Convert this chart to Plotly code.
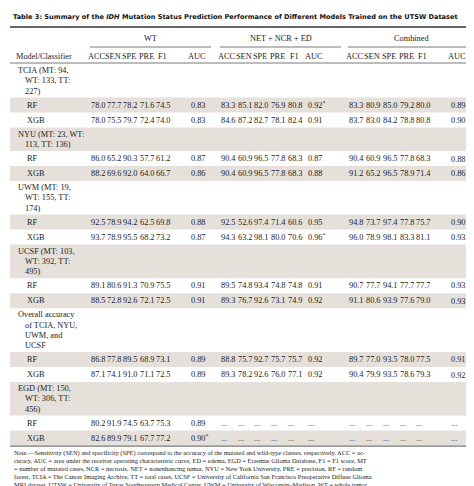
import plotly.graph_objects as go

title = "Table 3: Summary of the <i>IDH</i> Mutation Status Prediction Performance of Different Models Trained on the UTSW Dataset"
groups = ["WT", "NET + NCR + ED", "Combined"]
metrics = ["ACC", "SEN", "SPE", "PRE", "F1", "AUC"]

datasets = [
    ["TCIA (MT: 94,", "WT: 133, TT:", "227)"],
    ["NYU (MT: 23, WT:", "113, TT: 136)"],
    ["UWM (MT: 19,", "WT: 155, TT:", "174)"],
    ["UCSF (MT: 103,", "WT: 392, TT:", "495)"],
    ["Overall accuracy", "of TCIA, NYU,", "UWM, and", "UCSF"],
    ["EGD (MT: 150,", "WT: 306, TT:", "456)"],
]
models = ["RF", "XGB"]
values = [
    [["78.0","77.7","78.2","71.6","74.5","0.83","83.3","85.1","82.0","76.9","80.8","0.92*","83.3","80.9","85.0","79.2","80.0","0.89"],
     ["78.0","75.5","79.7","72.4","74.0","0.83","84.6","87.2","82.7","78.1","82.4","0.91","83.7","83.0","84.2","78.8","80.8","0.90"]],
    [["86.0","65.2","90.3","57.7","61.2","0.87","90.4","60.9","96.5","77.8","68.3","0.87","90.4","60.9","96.5","77.8","68.3","0.88*"],
     ["88.2","69.6","92.0","64.0","66.7","0.86","90.4","60.9","96.5","77.8","68.3","0.88","91.2","65.2","96.5","78.9","71.4","0.86"]],
    [["92.5","78.9","94.2","62.5","69.8","0.88","92.5","52.6","97.4","71.4","60.6","0.95","94.8","73.7","97.4","77.8","75.7","0.90"],
     ["93.7","78.9","95.5","68.2","73.2","0.87","94.3","63.2","98.1","80.0","70.6","0.96*","96.0","78.9","98.1","83.3","81.1","0.93"]],
    [["89.1","80.6","91.3","70.9","75.5","0.91","89.5","74.8","93.4","74.8","74.8","0.91","90.7","77.7","94.1","77.7","77.7","0.93"],
     ["88.5","72.8","92.6","72.1","72.5","0.91","89.3","76.7","92.6","73.1","74.9","0.92","91.1","80.6","93.9","77.6","79.0","0.93*"]],
    [["86.8","77.8","89.5","68.9","73.1","0.89","88.8","75.7","92.7","75.7","75.7","0.92","89.7","77.0","93.5","78.0","77.5","0.91"],
     ["87.1","74.1","91.0","71.1","72.5","0.89","89.3","78.2","92.6","76.0","77.1","0.92","90.4","79.9","93.5","78.6","79.3","0.92*"]],
    [["80.2","91.9","74.5","63.7","75.3","0.89"] + ["..."]*12,
     ["82.6","89.9","79.1","67.7","77.2","0.90*"] + ["..."]*12],
]
notes = [
    "Note.—Sensitivity (SEN) and specificity (SPE) correspond to the accuracy of the mutated and wild-type classes, respectively. ACC = ac-",
    "curacy, AUC = area under the receiver operating characteristic curve, ED = edema, EGD = Erasmus Glioma Database, F1 = F1 score, MT",
    "= number of mutated cases, NCR = necrosis, NET = nonenhancing tumor, NYU = New York University, PRE = precision, RF = random",
    "forest, TCIA = The Cancer Imaging Archive, TT = total cases, UCSF = University of California San Francisco Preoperative Diffuse Glioma",
    "MRI dataset, UTSW = University of Texas Southwestern Medical Center, UWM = University of Wisconsin–Madison, WT = whole tumor",
    "(number of wild-type cases), XGB = XGBoost.",
    "* Indicates the highest AUC achieved for each dataset.",
]

SERIF = "Liberation Serif"
FS = 8.3
col_x = [89, 105, 121, 138, 154, 189,
         219, 236, 252, 269, 286, 306,
         347, 364, 381, 398, 414, 449]
group_x = [(82, 203), (212, 333), (340, 466)]
fig = go.Figure()
ann = []
shapes = []
shade = "#e6e0da"

def A(**kw):
    d = dict(xref="x", yref="y", showarrow=False, yanchor="middle")
    d.update(kw)
    ann.append(d)

def S(**kw):
    d = dict(xref="x", yref="y")
    d.update(kw)
    shapes.append(d)

A(x=3, y=9, text="<b>"+title+"</b>", xanchor="left", font=dict(family="DejaVu Sans", size=6.6, color="#111"))
S(type="line", x0=2, x1=472, y0=19, y1=19, line=dict(color="#333", width=1.5))
for g, (a, b) in zip(groups, group_x):
    A(x=(a+b)/2, y=30, text=g, font=dict(family=SERIF, size=FS, color="#222"))
    S(type="line", x0=a, x1=b, y0=39, y1=39, line=dict(color="#555", width=0.8))
A(x=6, y=48, text="Model/Classifier", xanchor="left", font=dict(family=SERIF, size=FS, color="#222"))
for i in range(18):
    A(x=col_x[i], y=48, text=metrics[i % 6], font=dict(family=SERIF, size=FS, color="#222"))
S(type="line", x0=2, x1=472, y0=55, y1=55, line=dict(color="#555", width=0.8))

y = 56
LINE = 10.2
ROW = 15
idx = 0
for d, lines in enumerate(datasets):
    h = len(lines) * LINE + 3
    if idx % 2 == 1:
        S(type="rect", x0=2, x1=472, y0=y, y1=y+h, fillcolor=shade, line=dict(width=0), layer="below")
    for k, t in enumerate(lines):
        A(x=8 if k == 0 else 15, y=y+1.5+LINE*(k+0.5), text=t, xanchor="left", font=dict(family=SERIF, size=FS, color="#222"))
    y += h
    idx += 1
    for m, mname in enumerate(models):
        if idx % 2 == 1:
            S(type="rect", x0=2, x1=472, y0=y, y1=y+ROW, fillcolor=shade, line=dict(width=0), layer="below")
        A(x=17, y=y+ROW/2, text=mname, xanchor="left", font=dict(family=SERIF, size=FS, color="#222"))
        for i, v in enumerate(values[d][m]):
            txt = v.replace("*", "<sup>*</sup>")
            A(x=col_x[i]-8, y=y+ROW/2, text=txt, xanchor="left", font=dict(family=SERIF, size=FS, color="#222"))
        y += ROW
        idx += 1
S(type="line", x0=2, x1=472, y0=y+0.5, y1=y+0.5, line=dict(color="#555", width=1))
ny = y + 7
for t in notes:
    A(x=4, y=ny, text=t, xanchor="left", font=dict(family=SERIF, size=6.4, color="#222"))
    ny += 7.9

fig.update_layout(width=474, height=486, margin=dict(l=0, r=0, t=0, b=0),
                  paper_bgcolor="white", plot_bgcolor="white",
                  xaxis=dict(range=[0, 474], visible=False, fixedrange=True),
                  yaxis=dict(range=[486, 0], visible=False, fixedrange=True),
                  annotations=ann, shapes=shapes, showlegend=False)
fig.write_html("out.html")
